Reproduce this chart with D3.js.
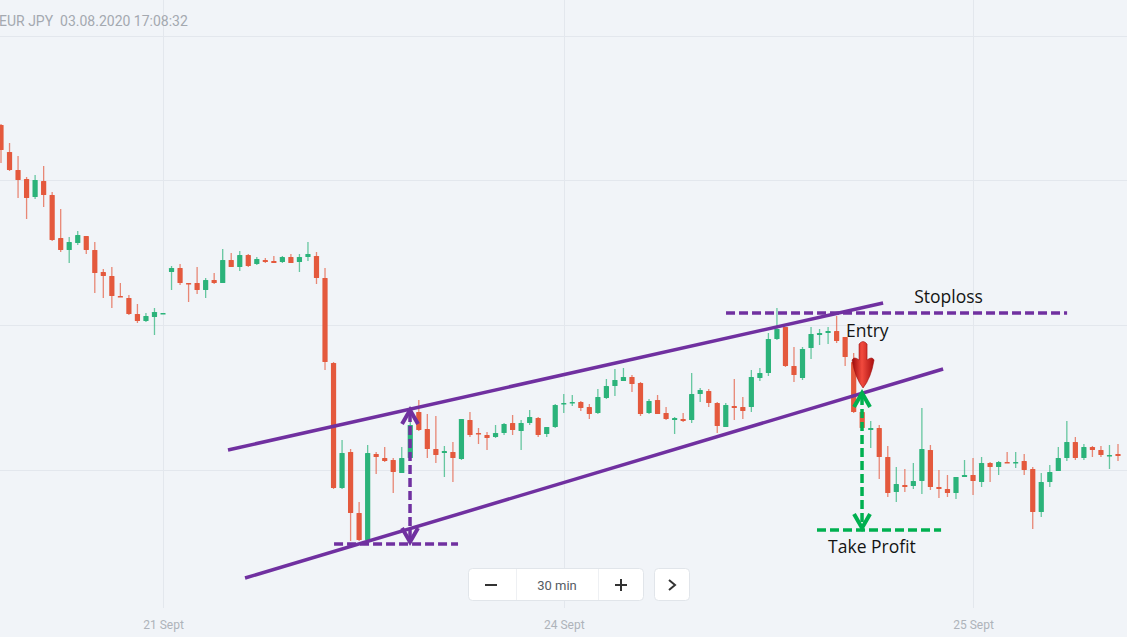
<!DOCTYPE html>
<html><head><meta charset="utf-8">
<script src="https://cdn.jsdelivr.net/npm/d3@7/dist/d3.min.js"></script>
<style>html,body{margin:0;padding:0;background:#f1f4f8;overflow:hidden}</style>
</head><body>
<svg id="c" width="1127" height="637"></svg>
<script>
// ---- data (EUR/JPY, 30 min candles) ----
const title = "EUR JPY  03.08.2020 17:08:32";
const opens = [128.75,128.48,128.30,128.21,128.03,128.19,128.05,127.62,127.50,127.57,
127.64,127.50,127.28,127.24,127.04,127.02,126.86,126.79,126.83,126.87,
127.28,127.32,127.17,127.17,127.10,127.20,127.17,127.40,127.33,127.45,
127.36,127.40,127.39,127.38,127.43,127.38,127.43,127.44,127.22,126.37,
125.12,125.48,124.87,124.60,125.46,125.42,125.40,125.27,125.42,125.88,
125.71,125.51,125.47,125.48,125.41,125.80,125.67,125.65,125.63,125.67,
125.77,125.69,125.77,125.82,125.66,125.73,125.96,125.97,125.98,125.93,
125.87,126.02,126.14,126.19,126.23,126.17,125.87,126.00,125.87,125.80,
125.81,125.80,126.06,126.09,125.97,125.73,125.94,125.93,125.93,126.22,
126.27,126.61,126.73,126.34,126.22,126.52,126.65,126.67,126.69,126.63,
126.38,125.88,125.70,125.72,125.43,125.08,125.15,125.14,125.19,125.50,
125.13,125.11,125.07,125.23,125.25,125.18,125.37,125.33,125.38,125.37,
125.39,125.31,124.88,125.18,125.29,125.42,125.58,125.42,125.53,125.50,
125.44,125.46];
const closes = [128.50,128.30,128.20,128.02,128.20,128.05,127.60,127.50,127.58,127.65,
127.50,127.27,127.24,127.04,127.03,126.86,126.79,126.84,126.88,126.87,
127.32,127.17,127.16,127.10,127.20,127.17,127.40,127.33,127.45,127.34,
127.41,127.38,127.37,127.43,127.37,127.43,127.46,127.22,126.38,125.12,
125.47,124.87,124.60,125.47,125.43,125.39,125.28,125.42,125.75,125.70,
125.51,125.45,125.49,125.42,125.81,125.65,125.66,125.62,125.67,125.76,
125.70,125.77,125.83,125.65,125.73,125.95,125.97,125.98,125.92,125.86,
126.03,126.14,126.20,126.23,126.16,125.86,125.99,125.86,125.81,125.82,
125.79,126.06,126.10,125.97,125.74,125.95,125.92,125.89,126.23,126.27,
126.61,126.71,126.34,126.25,126.51,126.66,126.67,126.69,126.59,126.43,
125.88,125.72,125.72,125.43,125.07,125.16,125.13,125.19,125.51,125.13,
125.11,125.07,125.23,125.25,125.19,125.37,125.33,125.38,125.37,125.38,
125.30,124.88,125.18,125.28,125.42,125.58,125.42,125.53,125.50,125.45,
125.45,125.44];
const highs = [128.76,128.57,128.44,128.23,128.25,128.34,128.08,127.91,127.63,127.69,
127.64,127.58,127.31,127.33,127.17,127.05,126.96,126.87,126.92,126.87,
127.34,127.36,127.17,127.33,127.22,127.27,127.51,127.47,127.49,127.46,
127.43,127.42,127.44,127.44,127.46,127.46,127.58,127.48,127.32,126.38,
125.60,125.51,124.98,125.55,125.48,125.53,125.42,125.53,125.80,126.00,
125.86,125.84,125.54,125.58,125.81,125.88,125.72,125.68,125.75,125.77,
125.85,125.80,125.90,125.83,125.73,125.96,126.06,126.05,125.99,125.96,
126.11,126.21,126.31,126.32,126.25,126.18,126.01,126.05,125.93,125.83,
125.87,126.27,126.12,126.11,125.98,125.97,126.21,126.03,126.30,126.32,
126.67,126.92,126.73,126.53,126.53,126.73,126.71,126.73,126.84,126.63,
126.47,125.89,125.79,125.75,125.54,125.33,125.31,125.37,125.92,125.55,
125.30,125.25,125.23,125.40,125.42,125.43,125.38,125.39,125.48,125.48,
125.46,125.33,125.27,125.35,125.53,125.79,125.63,125.56,125.54,125.54,
125.55,125.56];
const lows = [128.37,128.29,128.02,127.81,128.01,127.93,127.59,127.48,127.37,127.55,
127.46,127.07,127.02,126.92,127.03,126.85,126.77,126.78,126.65,126.87,
127.10,127.15,126.98,127.06,127.02,127.16,127.17,127.33,127.29,127.33,
127.35,127.37,127.37,127.37,127.37,127.28,127.39,127.16,126.30,125.11,
125.11,124.59,124.59,124.59,125.26,125.38,125.07,125.27,125.41,125.69,
125.42,125.37,125.23,125.18,125.40,125.63,125.56,125.50,125.62,125.65,
125.65,125.50,125.75,125.63,125.63,125.72,125.87,125.94,125.89,125.81,
125.86,126.01,126.04,126.19,126.08,125.84,125.86,125.86,125.80,125.66,
125.78,125.77,125.98,125.93,125.67,125.73,125.80,125.81,125.88,126.19,
126.24,126.60,126.33,126.18,126.20,126.41,126.55,126.56,126.57,126.34,
125.87,125.70,125.52,125.21,125.03,124.98,125.08,125.11,125.06,125.10,
125.02,125.03,125.01,125.23,125.05,125.13,125.18,125.25,125.37,125.32,
125.25,124.71,124.83,125.13,125.29,125.39,125.40,125.40,125.43,125.43,
125.31,125.39];
const dayTickIndex = [19, 66, 114];
const dayTickLabels = ["21 Sept", "24 Sept", "25 Sept"];
const gridPrices = [129.64, 128.20, 126.75, 125.30];
// annotation anchors in (candle index, price)
const upperChannel = [[26.62, 125.50], [103.45, 126.97]];
const lowerChannel = [[28.62, 124.22], [110.49, 126.31]];
const heightArrow = [[47.97, 125.90], [47.97, 124.58]];
const baseLine = [[39.06, 124.56], [53.6, 124.56]];
const stoplossLine = [[85.03, 126.87], [125.03, 126.87]];
const targetArrow = [[100.98, 126.07], [100.98, 124.72]];
const targetLine = [[95.7, 124.70], [110.25, 124.70]];
const entryArrow = [[101.1, 126.59], [101.1, 126.12]];
const labels = [
  {text: "Stoploss", i: 107.1, p: 126.97},
  {text: "Entry", i: 99.1, p: 126.63},
  {text: "Take Profit", i: 97.0, p: 124.47}
];
const intervalLabel = "30 min";

// ---- drawing ----
const W = 1127, H = 637;
const svg = d3.select("#c");
const x = d3.scaleLinear().domain([0, opens.length - 1]).range([1, 1118]);
const y = d3.scaleLinear().domain([130, 123.63]).range([0, H]);

svg.append("rect").attr("width", W).attr("height", H).attr("fill", "#f1f4f8");

// grid
svg.append("g").selectAll("line").data(gridPrices).join("line")
  .attr("x1", 0).attr("x2", W).attr("y1", d => Math.round(y(d)) + 0.5).attr("y2", d => Math.round(y(d)) + 0.5)
  .attr("stroke", "#e3e7ed").attr("stroke-width", 1);
svg.append("g").selectAll("line").data(dayTickIndex).join("line")
  .attr("x1", d => Math.round(x(d)) + 0.5).attr("x2", d => Math.round(x(d)) + 0.5)
  .attr("y1", 0).attr("y2", 608)
  .attr("stroke", "#e3e7ed").attr("stroke-width", 1);

// day labels (bottom axis)
const xAxis = d3.axisBottom(x).tickValues(dayTickIndex)
  .tickFormat((d, k) => dayTickLabels[k]).tickSize(0).tickPadding(0);
const ax = svg.append("g").attr("transform", "translate(0,629)").call(xAxis);
ax.select(".domain").remove();
ax.selectAll("text").attr("font-family", "Roboto, sans-serif").attr("font-size", 12)
  .attr("fill", "#aeb3ba").attr("dy", 0);

// title
svg.append("text").attr("x", -1).attr("y", 26).text(title)
  .style("white-space", "pre")
  .attr("font-family", "Roboto, sans-serif").attr("font-size", 14).attr("fill", "#a4a9b0");

// candles
const RED = "#e4593d", GREEN = "#2bb37a";
const cd = opens.map((o, i) => ({i, o, c: closes[i], h: highs[i], l: lows[i]}));
const cg = svg.append("g");
cg.selectAll("line").data(cd).join("line")
  .attr("x1", d => x(d.i)).attr("x2", d => x(d.i))
  .attr("y1", d => y(d.h)).attr("y2", d => y(d.l))
  .attr("stroke", d => d.c >= d.o ? GREEN : RED).attr("stroke-opacity", 0.7).attr("stroke-width", 1.3);
cg.selectAll("rect").data(cd).join("rect")
  .attr("x", d => x(d.i) - 2.6).attr("width", 5.2)
  .attr("y", d => y(Math.max(d.o, d.c)))
  .attr("height", d => Math.max(1.6, Math.abs(y(d.o) - y(d.c))))
  .attr("fill", d => d.c >= d.o ? GREEN : RED).attr("rx", 0.6);

// annotations
const PURPLE = "#7030a0", AGREEN = "#00b050";
const P = pt => [x(pt[0]), y(pt[1])];
function seg(pts, color, w, dash) {
  const a = P(pts[0]), b = P(pts[1]);
  const l = svg.append("line").attr("x1", a[0]).attr("y1", a[1]).attr("x2", b[0]).attr("y2", b[1])
    .attr("stroke", color).attr("stroke-width", w);
  if (dash) l.attr("stroke-dasharray", dash);
  return l;
}
function chevron(tip, dir, color) {
  const [tx, ty] = tip;
  svg.append("path").attr("d", `M${tx - 8},${ty + dir * 14} L${tx},${ty} L${tx + 8},${ty + dir * 14}`)
    .attr("fill", "none").attr("stroke", color).attr("stroke-width", 4)
    .attr("stroke-linejoin", "miter").attr("stroke-linecap", "butt");
}
seg(upperChannel, PURPLE, 3.5);
seg(lowerChannel, PURPLE, 3.5);
seg(baseLine, PURPLE, 3.5, "9,4");
seg(stoplossLine, PURPLE, 3.5, "9,4");
{
  const a = P(heightArrow[0]), b = P(heightArrow[1]);
  svg.append("line").attr("x1", a[0]).attr("x2", b[0]).attr("y1", a[1] + 3).attr("y2", b[1] - 3)
    .attr("stroke", PURPLE).attr("stroke-width", 3.5).attr("stroke-dasharray", "9,4");
  chevron(a, 1, PURPLE); chevron(b, -1, PURPLE);
}
seg(targetLine, AGREEN, 3.5, "9,4");
{
  const a = P(targetArrow[0]), b = P(targetArrow[1]);
  svg.append("line").attr("x1", a[0]).attr("x2", b[0]).attr("y1", a[1] + 3).attr("y2", b[1] - 3)
    .attr("stroke", AGREEN).attr("stroke-width", 3.5).attr("stroke-dasharray", "9,4");
  chevron(a, 1, AGREEN); chevron(b, -1, AGREEN);
}
// red entry arrow
const defs = svg.append("defs");
const grad = defs.append("linearGradient").attr("id", "rg").attr("x1", 0).attr("x2", 1).attr("y1", 0).attr("y2", 0);
grad.append("stop").attr("offset", "0%").attr("stop-color", "#9c0a0a");
grad.append("stop").attr("offset", "45%").attr("stop-color", "#f24a3e");
grad.append("stop").attr("offset", "100%").attr("stop-color", "#a80f0f");
{
  const a = P(entryArrow[0]), b = P(entryArrow[1]);
  const cx = a[0], t = a[1], tip = b[1], hy = t + 19;
  svg.append("path").attr("fill", "url(#rg)").attr("stroke", "#a00d0d").attr("stroke-width", 0.6)
    .attr("d", `M${cx - 4},${t + 3} Q${cx},${t - 2} ${cx + 4},${t + 3} L${cx + 4},${hy}
      Q${cx + 9},${hy - 4} ${cx + 11},${hy} Q${cx + 8},${tip - 10} ${cx},${tip}
      Q${cx - 8},${tip - 10} ${cx - 11},${hy} Q${cx - 9},${hy - 4} ${cx - 4},${hy} Z`);
}
// text labels
svg.append("g").selectAll("text").data(labels).join("text")
  .attr("x", d => x(d.i)).attr("y", d => y(d.p)).text(d => d.text)
  .attr("font-family", "'Open Sans', sans-serif").attr("font-size", 17.5).attr("fill", "#141414");

// bottom control bar
const ctrl = svg.append("g");
ctrl.append("rect").attr("x", 468.5).attr("y", 568.5).attr("width", 175).attr("height", 32).attr("rx", 4)
  .attr("fill", "#ffffff").attr("stroke", "#e1e5ea");
ctrl.append("rect").attr("x", 654.5).attr("y", 568.5).attr("width", 35).attr("height", 32).attr("rx", 4)
  .attr("fill", "#ffffff").attr("stroke", "#e1e5ea");
[516.5, 598.5].forEach(px => ctrl.append("line").attr("x1", px).attr("x2", px).attr("y1", 569).attr("y2", 600)
  .attr("stroke", "#eef0f3"));
ctrl.append("line").attr("x1", 485).attr("x2", 497).attr("y1", 585).attr("y2", 585).attr("stroke", "#333").attr("stroke-width", 2);
ctrl.append("line").attr("x1", 615).attr("x2", 627).attr("y1", 585).attr("y2", 585).attr("stroke", "#333").attr("stroke-width", 2);
ctrl.append("line").attr("x1", 621).attr("x2", 621).attr("y1", 579).attr("y2", 591).attr("stroke", "#333").attr("stroke-width", 2);
ctrl.append("path").attr("d", "M669,580 L675,585 L669,590").attr("fill", "none").attr("stroke", "#333").attr("stroke-width", 2);
ctrl.append("text").attr("x", 557).attr("y", 589.5).attr("text-anchor", "middle").text(intervalLabel)
  .attr("font-family", "Roboto, sans-serif").attr("font-size", 13).attr("fill", "#555b63");
</script>
</body></html>
